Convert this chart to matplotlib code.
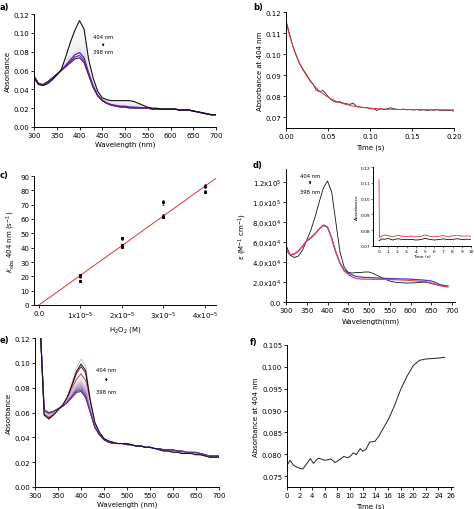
"""Six-panel kinetics figure: spectra, time traces and kobs vs [H2O2]."""

import numpy as np
import matplotlib
matplotlib.use("Agg")
import matplotlib.pyplot as plt
from matplotlib.ticker import FormatStrFormatter

W, H = 474, 510
FS = 5.0

# --- a) spectra (300-700 nm every 10 nm) ---
wl_a = np.arange(300, 701, 10)
a_first = [0.052, 0.045, 0.044, 0.046, 0.050, 0.055, 0.061, 0.075, 0.090, 0.103,
           0.113, 0.104, 0.072, 0.052, 0.038, 0.031, 0.029, 0.028, 0.028, 0.028,
           0.028, 0.028, 0.027, 0.025, 0.023, 0.021, 0.020, 0.020, 0.019, 0.019,
           0.019, 0.019, 0.018, 0.018, 0.018, 0.017, 0.016, 0.015, 0.014, 0.013,
           0.013]
a_last = [0.054, 0.046, 0.045, 0.048, 0.052, 0.056, 0.060, 0.064, 0.068, 0.072,
          0.073, 0.068, 0.055, 0.042, 0.033, 0.028, 0.025, 0.023, 0.022, 0.021,
          0.021, 0.020, 0.020, 0.020, 0.020, 0.020, 0.019, 0.019, 0.019, 0.019,
          0.019, 0.019, 0.018, 0.018, 0.018, 0.017, 0.016, 0.015, 0.014, 0.013,
          0.013]
# absorbance at 400 nm of each intermediate scan
a_levels = [0.110, 0.107, 0.104, 0.101, 0.099, 0.097, 0.095, 0.093, 0.091,
            0.089, 0.087, 0.085, 0.084, 0.083, 0.082, 0.081, 0.080]
a_final_levels = [0.079, 0.076, 0.0735]
a_final_colors = ["#3b2b9a", "#7a2f8f", "#5a1b6e"]

# --- b) decay at 404 nm ---
b_t = np.arange(0, 0.2001, 0.004)
b_obs = [0.116, 0.110, 0.104, 0.0995, 0.0955, 0.0930, 0.0905, 0.0880, 0.0860,
         0.0830, 0.0822, 0.0828, 0.0810, 0.0790, 0.0778, 0.0772, 0.0775, 0.0768,
         0.0765, 0.0762, 0.0768, 0.0752, 0.0750, 0.0746, 0.0748, 0.0740, 0.0742,
         0.0733, 0.0741, 0.0738, 0.0740, 0.0746, 0.0742, 0.0738, 0.0737, 0.0740,
         0.0736, 0.0738, 0.0735, 0.0738, 0.0734, 0.0737, 0.0733, 0.0736, 0.0734,
         0.0737, 0.0733, 0.0735, 0.0732, 0.0734, 0.0730]
b_fit_t = [0, 0.005, 0.01, 0.015, 0.02, 0.025, 0.03, 0.04, 0.05, 0.06, 0.07,
           0.08, 0.09, 0.10, 0.12, 0.15, 0.20]
b_fit = [0.1150, 0.1077, 0.1018, 0.0968, 0.0927, 0.0894, 0.0866, 0.0824,
         0.0796, 0.0776, 0.0763, 0.0754, 0.0748, 0.0744, 0.0739, 0.0737, 0.0736]

# --- c) kobs vs [H2O2] ---
c_conc = [1e-5, 1e-5, 1e-5, 2e-5, 2e-5, 2e-5, 3e-5, 3e-5, 3e-5, 4e-5, 4e-5]
c_kobs = [20.7, 19.9, 16.9, 46.5, 41.6, 40.4, 71.6, 62.4, 61.5, 82.9, 79.1]
c_err = [0.8, 0.8, 0.6, 1.0, 0.8, 0.8, 2.0, 1.0, 0.8, 1.5, 1.0]
c_line_x = [0, 4.27e-5]
c_line_y = [0, 88.4]

# --- d) molar absorptivity spectra (300-690 nm) ---
wl_d = np.arange(300, 691, 10)
d_black = [57000, 47000, 44500, 46000, 52000, 62000, 72000, 85000, 100000, 114000,
           121000, 110000, 80000, 50000, 35000, 29500, 29000, 29500, 29500, 30000,
           30000, 28500, 26500, 24500, 22500, 21000, 20000, 19500, 19200, 19000,
           19000, 19200, 19500, 19800, 19500, 18500, 17500, 16500, 15800, 15500]
d_blue = [52000, 47000, 48000, 51000, 56000, 61000, 64000, 68000, 73000, 77000,
          75000, 64000, 50000, 39000, 32000, 29000, 27000, 25500, 25000, 24500,
          24500, 24200, 24000, 23800, 23600, 23500, 23300, 23200, 23000, 23000,
          22800, 22500, 22200, 22000, 21500, 21000, 19500, 17500, 16500, 16000]
d_red = [53000, 47500, 48000, 51000, 56000, 61500, 64500, 68500, 73000, 76500,
         74500, 63500, 49500, 38500, 31000, 27500, 25000, 23500, 23000, 22800,
         22800, 22700, 22700, 22600, 22600, 22500, 22300, 22200, 22000, 21800,
         21500, 21200, 20800, 20500, 20000, 19000, 17800, 16500, 15500, 15000]

# inset: traces at 404 nm over 10 s
ins_t = [0, 0.05, 0.3, 0.6, 1.0, 1.5, 2.0, 2.5, 3.0, 3.5, 4.0, 4.5, 5.0, 5.5,
         6.0, 6.5, 7.0, 7.5, 8.0, 8.5, 9.0, 9.5, 10.0]
ins_red = [0.112, 0.0755, 0.0762, 0.0770, 0.0765, 0.0758, 0.0768, 0.0762,
           0.0760, 0.0763, 0.0758, 0.0760, 0.0770, 0.0762, 0.0758, 0.0762,
           0.0766, 0.0760, 0.0764, 0.0768, 0.0762, 0.0764, 0.0762]
ins_black = [0.0735, 0.0735, 0.0745, 0.0742, 0.0748, 0.0738, 0.0746, 0.0742,
             0.0740, 0.0742, 0.0738, 0.0740, 0.0748, 0.0742, 0.0738, 0.0741,
             0.0745, 0.0740, 0.0742, 0.0746, 0.0741, 0.0743, 0.0742]

# --- e) spectra (310-700 nm every 10 nm) ---
wl_e = np.arange(310, 701, 10)
e_first = [0.140, 0.058, 0.055, 0.058, 0.062, 0.066, 0.072, 0.082, 0.093, 0.099,
           0.094, 0.070, 0.052, 0.044, 0.039, 0.037, 0.036, 0.035, 0.035, 0.035,
           0.034, 0.033, 0.033, 0.032, 0.032, 0.031, 0.030, 0.029, 0.029, 0.028,
           0.028, 0.027, 0.027, 0.027, 0.026, 0.026, 0.025, 0.024, 0.024, 0.024]
e_last = [0.140, 0.062, 0.060, 0.061, 0.063, 0.065, 0.068, 0.072, 0.076, 0.077,
          0.072, 0.060, 0.048, 0.042, 0.038, 0.036, 0.035, 0.035, 0.035, 0.034,
          0.034, 0.033, 0.033, 0.032, 0.032, 0.031, 0.031, 0.030, 0.030, 0.030,
          0.029, 0.029, 0.028, 0.028, 0.028, 0.027, 0.026, 0.025, 0.025, 0.025]
e_levels = [0.103, 0.099, 0.097, 0.091, 0.088, 0.086, 0.085, 0.084, 0.083,
            0.082, 0.081, 0.080, 0.079, 0.078, 0.077]
e_colors = ["#e8bccb", "#111111", "#6e1035", "#b8385f", "#e6dbe9", "#dccfe3",
            "#d2c3dd", "#c8b6d6", "#bda8ce", "#b39bc6", "#a38abb", "#9176af",
            "#7d5ea3", "#6a4494", "#5a2c86"]

# --- f) slow trace at 404 nm ---
f_t = [0, 0.05, 0.15, 0.5, 1.0, 1.5, 2.0, 2.5, 3.0, 3.7, 4.2, 4.6, 5.0, 6.0,
       7.0, 7.6, 8.2, 9.0, 9.6, 10.0, 10.5, 11.0, 11.6, 12.0, 12.5, 13.1,
       13.9, 14.5, 15.0, 16.0, 17.0, 18.0, 19.0, 20.0, 21.0, 22.0, 23.0, 24.0,
       25.0]
f_abs = [0.0985, 0.0780, 0.0778, 0.0786, 0.0775, 0.0771, 0.0768, 0.0766,
         0.0776, 0.0790, 0.0779, 0.0786, 0.0791, 0.0786, 0.0789, 0.0781,
         0.0786, 0.0795, 0.0792, 0.0795, 0.0803, 0.0799, 0.0813, 0.0807,
         0.0811, 0.0828, 0.0829, 0.0840, 0.0853, 0.0878, 0.0910, 0.0948,
         0.0978, 0.1003, 0.1015, 0.1018, 0.1019, 0.1020, 0.1022]


def rect(x0, y0, x1, y1):
    """Pixel box (top-left origin) -> figure fraction rect."""
    return [x0 / W, 1 - y1 / H, (x1 - x0) / W, (y1 - y0) / H]


def style(ax, fs=FS):
    for s in ("top", "right"):
        ax.spines[s].set_visible(False)
    for s in ("left", "bottom"):
        ax.spines[s].set_linewidth(0.7)
    ax.tick_params(labelsize=fs, length=2, width=0.6, pad=1.5)


def mix(wl, first, last, level, at=400):
    """Scan between first and last spectra whose value at `at` nm is `level`."""
    first = np.asarray(first)
    last = np.asarray(last)
    i = int(np.where(np.asarray(wl) == at)[0][0])
    frac = (level - last[i]) / (first[i] - last[i])
    return last + frac * (first - last)


def arrow_label(ax, x, ytop, ybot):
    ax.text(x, ytop, "404 nm", fontsize=3.8, ha="center", va="center")
    ax.text(x, ybot, "398 nm", fontsize=3.8, ha="center", va="center")
    dy = ytop - ybot
    ax.annotate("", xy=(x, ybot + 0.32 * dy), xytext=(x, ytop - 0.3 * dy),
                arrowprops=dict(arrowstyle="-|>", lw=0.5, color="black",
                                mutation_scale=3))


fig = plt.figure(figsize=(W / 100, H / 100), dpi=100)
lbl = dict(fontsize=6, fontweight="bold")

# a)
ax = fig.add_axes(rect(34, 15, 216, 128))
ax.plot(wl_a, a_first, color="#111111", lw=0.8, zorder=5)
cmap = plt.get_cmap("Purples")
for i, lv in enumerate(a_levels):
    ax.plot(wl_a, mix(wl_a, a_first, a_last, lv),
            color=cmap(0.05 + 0.25 * i / len(a_levels)), lw=0.4)
for lv, c in zip(a_final_levels, a_final_colors):
    ax.plot(wl_a, mix(wl_a, a_first, a_last, lv), color=c, lw=0.9)
ax.set_xlim(300, 700)
ax.set_ylim(0, 0.12)
ax.set_xticks(range(300, 701, 50))
ax.set_yticks(np.arange(0, 0.121, 0.02))
ax.yaxis.set_major_formatter(FormatStrFormatter("%.2f"))
ax.set_xlabel("Wavelength (nm)", fontsize=FS, labelpad=2)
ax.set_ylabel("Absorbance", fontsize=FS, labelpad=2)
arrow_label(ax, 452, 0.0956, 0.0807)
style(ax)
fig.text(0.0, 1 - 10 / H, "a)", **lbl)

# b)
ax = fig.add_axes(rect(286, 13, 454, 129))
ax.plot(b_t, b_obs, color="#222222", lw=0.6)
ax.plot(b_fit_t, b_fit, color="#e0323c", lw=0.7)
ax.set_xlim(0, 0.2)
ax.set_ylim(0.065, 0.12)
ax.set_xticks(np.arange(0, 0.201, 0.05))
ax.set_yticks(np.arange(0.07, 0.121, 0.01))
ax.xaxis.set_major_formatter(FormatStrFormatter("%.2f"))
ax.yaxis.set_major_formatter(FormatStrFormatter("%.2f"))
ax.set_xlabel("Time (s)", fontsize=FS, labelpad=3)
ax.set_ylabel("Absorbance at 404 nm", fontsize=FS, labelpad=2)
style(ax)
fig.text(253 / W, 1 - 10 / H, "b)", **lbl)

# c)
ax = fig.add_axes(rect(34, 177, 216, 306))
ax.plot(c_line_x, c_line_y, color="#e0323c", lw=0.7)
ax.errorbar(c_conc, c_kobs, yerr=c_err, fmt="s", ms=1.2, color="black",
            elinewidth=0.4, capsize=0.8, capthick=0.4)
ax.set_xlim(-0.12e-5, 4.27e-5)
ax.set_ylim(0, 90)
ax.set_yticks(range(0, 91, 10))
ax.set_xticks([0, 1e-5, 2e-5, 3e-5, 4e-5])
ax.set_xticklabels(["0.0", r"1x10$^{-5}$", r"2x10$^{-5}$", r"3x10$^{-5}$",
                    r"4x10$^{-5}$"])
ax.set_xlabel(r"H$_2$O$_2$ (M)", fontsize=FS, labelpad=2)
ax.set_ylabel(r"$k_{\rm obs}$ 404 nm (s$^{-1}$)", fontsize=FS, labelpad=2)
style(ax)
fig.text(0.0, 1 - 178 / H, "c)", **lbl)

# d)
ax = fig.add_axes(rect(286, 170, 455, 303))
ax.plot(wl_d, d_black, color="#111111", lw=0.6)
ax.plot(wl_d, d_blue, color="#4636d8", lw=0.9)
ax.plot(wl_d, d_red, color="#e0485a", lw=0.9)
ax.set_xlim(300, 707)
ax.set_ylim(0, 133000)
ax.set_xticks(range(300, 701, 50))
ax.set_yticks([0, 20000, 40000, 60000, 80000, 100000, 120000])
ax.set_yticklabels(["0.0", r"2.0x10$^4$", r"4.0x10$^4$", r"6.0x10$^4$",
                    r"8.0x10$^4$", r"1.0x10$^5$", r"1.2x10$^5$"])
ax.set_xlabel("Wavelength(nm)", fontsize=FS, labelpad=3)
ax.set_ylabel(r"ε (M$^{-1}$ cm$^{-1}$)", fontsize=FS, labelpad=2)
arrow_label(ax, 358, 126000, 110000)
style(ax)
fig.text(253 / W, 1 - 168 / H, "d)", **lbl)

ins = fig.add_axes(rect(373, 168, 471, 247))
ins.plot(ins_t, ins_black, color="#111111", lw=0.6)
ins.plot(ins_t, ins_red, color="#e0323c", lw=0.6)
ins.set_xlim(-0.65, 10)
ins.set_ylim(0.07, 0.12)
ins.set_xticks(range(0, 11))
ins.set_yticks(np.arange(0.07, 0.121, 0.01))
ins.yaxis.set_major_formatter(FormatStrFormatter("%.2f"))
ins.set_xlabel("Time (s)", fontsize=3.2, labelpad=1)
ins.set_ylabel("Absorbance", fontsize=3.2, labelpad=1)
style(ins, fs=3.2)
ins.tick_params(length=1.2, width=0.4, pad=1)

# e)
ax = fig.add_axes(rect(35, 339, 219, 488))
for lv, c in zip(e_levels, e_colors):
    ax.plot(wl_e, mix(wl_e, e_first, e_last, lv), color=c, lw=0.7,
            zorder=4 if c == "#111111" else 2)
ax.set_xlim(300, 700)
ax.set_ylim(0, 0.12)
ax.set_xticks(range(300, 701, 50))
ax.set_yticks(np.arange(0, 0.121, 0.02))
ax.yaxis.set_major_formatter(FormatStrFormatter("%.2f"))
ax.set_xlabel("Wavelength (nm)", fontsize=FS, labelpad=2)
ax.set_ylabel("Absorbance", fontsize=FS, labelpad=2)
arrow_label(ax, 455, 0.095, 0.077)
style(ax)
fig.text(0.0, 1 - 343 / H, "e)", **lbl)

# f)
ax = fig.add_axes(rect(287, 346, 453, 488))
ax.plot(f_t, f_abs, color="#222222", lw=0.7)
ax.set_xlim(0, 26.3)
ax.set_ylim(0.0725, 0.105)
ax.set_xticks(range(0, 27, 2))
ax.set_yticks(np.arange(0.075, 0.1051, 0.005))
ax.yaxis.set_major_formatter(FormatStrFormatter("%.3f"))
ax.set_xlabel("Time (s)", fontsize=FS, labelpad=3)
ax.set_ylabel("Absorbance at 404 nm", fontsize=FS, labelpad=2)
style(ax)
fig.text(250 / W, 1 - 345 / H, "f)", **lbl)

fig.savefig("out.png", dpi=100)
